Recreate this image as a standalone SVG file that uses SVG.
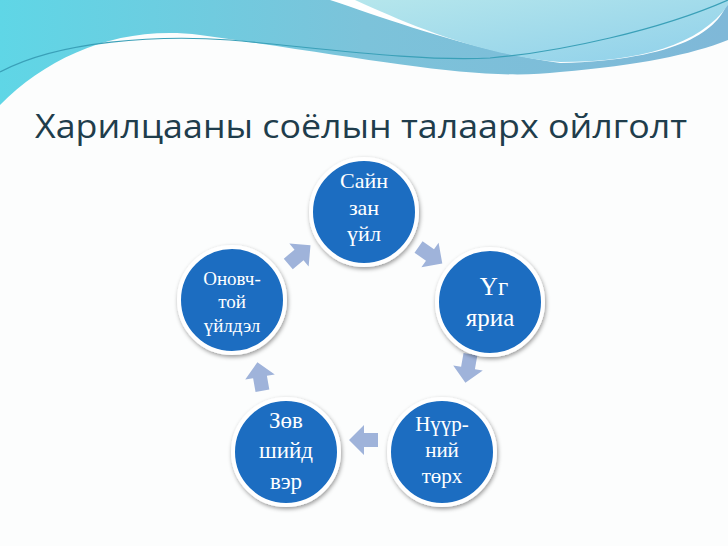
<svg xmlns="http://www.w3.org/2000/svg" width="728" height="546" viewBox="0 0 728 546">
<defs>
<linearGradient id="bg1" x1="0" y1="0" x2="1" y2="0"><stop offset="0" stop-color="#5fd6e6"/><stop offset="0.5" stop-color="#7cc3da"/><stop offset="1" stop-color="#7fb8d8"/></linearGradient>
<linearGradient id="bg2" x1="0" y1="0" x2="1" y2="1"><stop offset="0" stop-color="#b5e6ec"/><stop offset="1" stop-color="#8fd0ea"/></linearGradient>
<filter id="sh" x="-20%" y="-20%" width="140%" height="140%"><feDropShadow dx="1" dy="2" stdDeviation="2" flood-color="#000" flood-opacity="0.4"/></filter>
<path id="arr" d="M-14,-7 H0 V-15 L15,0 L0,15 V7 H-14 Z"/>
</defs>
<style>
.c{fill:#1b6dc1;stroke:#fff;stroke-width:4;filter:url(#sh)}
.t{font-family:"Liberation Serif",serif;fill:#fff;text-anchor:middle}
.a{fill:#9fb3da}
</style>
<rect width="728" height="546" fill="#fcfdfd"/>
<path d="M0,0 H728 V40 C690,55 640,65 560,72 C480,82 380,60 200,35 C120,25 50,55 0,105 Z" fill="url(#bg1)"/>
<path d="M330,0 H728 C720,30 680,60 560,63 C470,50 390,20 330,0 Z" fill="#fff"/>
<path d="M355,0 H728 V5 C700,45 640,62 560,62 C480,55 410,25 355,0 Z" fill="url(#bg2)"/>
<path d="M0,72 C60,40 160,35 230,40 C320,48 420,62 490,58 C560,52 660,30 728,0" fill="none" stroke="#3aa0b8" stroke-width="1.2"/>
<text x="35" y="138" font-family="Open Sans,sans-serif" font-size="32" textLength="652" lengthAdjust="spacingAndGlyphs" fill="#1f3d4c">Харилцааны соёлын талаарх ойлголт</text>
<g id="connectors">
<use href="#arr" class="a" transform="translate(299,255) rotate(-40)"/>
<use href="#arr" class="a" transform="translate(430,255) rotate(35)"/>
<use href="#arr" class="a" transform="translate(468,368) rotate(100)"/>
<use href="#arr" class="a" transform="translate(364,440) rotate(180)"/>
<use href="#arr" class="a" transform="translate(260,377) rotate(-100)"/>
</g>
<g id="n1"><circle class="c" cx="364" cy="212" r="53"/><text class="t" font-size="22"><tspan x="364" y="188">Сайн</tspan><tspan x="364" y="215">зан</tspan><tspan x="364" y="241">үйл</tspan></text></g>
<g id="n2"><circle class="c" cx="490" cy="302" r="53"/><text class="t" font-size="25"><tspan x="494" y="295">Үг</tspan><tspan x="490" y="326">яриа</tspan></text></g>
<g id="n3"><circle class="c" cx="442" cy="452" r="53"/><text class="t" font-size="21"><tspan x="442" y="431">Нүүр-</tspan><tspan x="442" y="457">ний</tspan><tspan x="442" y="483">төрх</tspan></text></g>
<g id="n4"><circle class="c" cx="286" cy="452" r="53"/><text class="t" font-size="23"><tspan x="286" y="428">Зөв</tspan><tspan x="286" y="458">шийд</tspan><tspan x="286" y="489">вэр</tspan></text></g>
<g id="n5"><circle class="c" cx="232" cy="300" r="53"/><text class="t" font-size="19"><tspan x="232" y="285">Оновч-</tspan><tspan x="232" y="308">той</tspan><tspan x="232" y="332">үйлдэл</tspan></text></g>
</svg>
